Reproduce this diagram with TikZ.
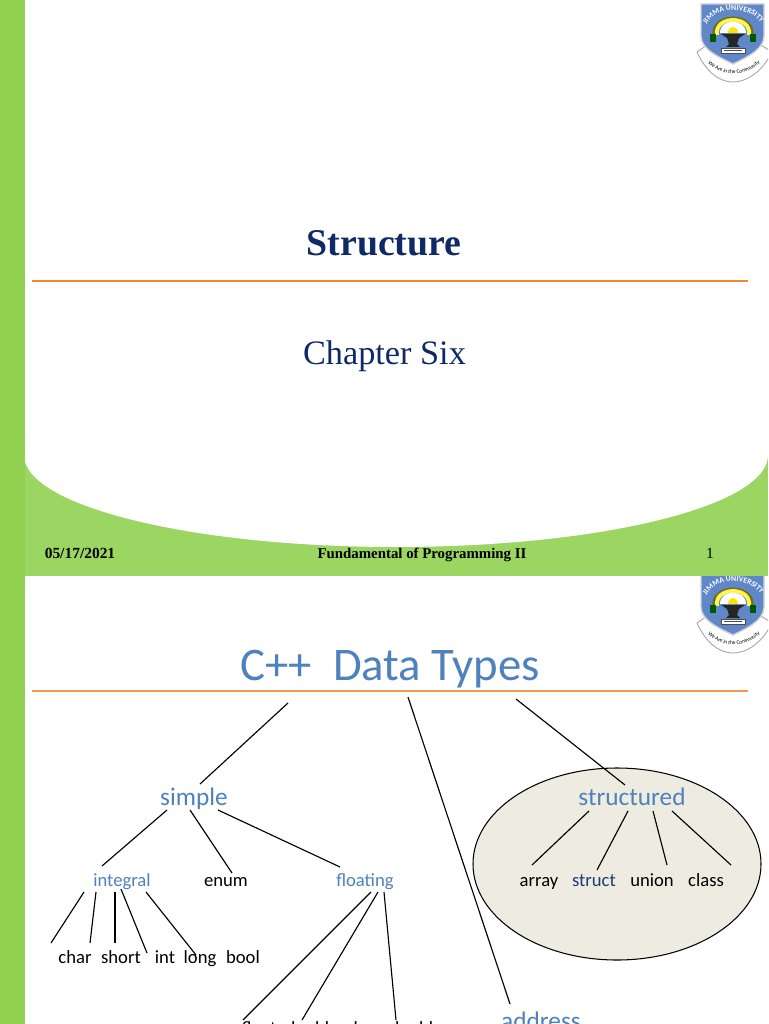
\documentclass[tikz,border=0pt]{standalone}
\usepackage{fontspec}
\usepackage{xcolor}
\usetikzlibrary{decorations.text}
\setmainfont{Carlito}
\newfontfamily\slideserif{Liberation Serif}
\definecolor{bandgreen}{HTML}{92D050}
\definecolor{footgreen}{HTML}{9BD562}
\definecolor{rulered}{HTML}{F08A30}
\definecolor{headblue}{HTML}{4F81BD}
\definecolor{navy}{HTML}{0F2A66}
\definecolor{ovalfill}{HTML}{EEECE1}
\definecolor{crestblue}{HTML}{6088C8}
\tikzset{
  crest/.pic={
    % ── scroll ──
    \filldraw[draw=gray!70, fill=white, line width=0.5pt]
      (-36,40) -- (-26,33) .. controls (-14,50) and (14,50) .. (28,33) -- (39,40)
      .. controls (28,62) and (12,70) .. (0,70) .. controls (-12,70) and (-26,62) .. (-36,40) -- cycle;
    \path[decorate, decoration={text along path, text align=center,
        text={|\fontsize{3.1}{4}\selectfont|We Are in the Community}}]
      (-30,46) .. controls (-14,67) and (14,67) .. (32,46);
    % ── shield ──
    \filldraw[draw=gray!35, fill=crestblue, line width=0.8pt]
      (-32,-8) -- (31,-8) -- (31,24) .. controls (31,38) and (12,46) .. (0,52)
      .. controls (-12,46) and (-32,38) .. (-32,24) -- cycle;
    \path[decorate, decoration={text along path, text align=center,
        text={|\fontsize{4.4}{6}\selectfont\bfseries\color{white}|JIMMA UNIVERSITY}}]
      (-29,21) .. controls (-25,-9) and (25,-9) .. (31,19);
    % ── wreath, flower, stand ──
    \draw[olive!75!black, line width=1.6pt] (-19,24) .. controls (-23,0) and (23,0) .. (19,24);
    \draw[yellow!70!white, line width=2.2pt] (-16,23) .. controls (-19,3) and (19,3) .. (16,23);
    \fill[white] (-13,21) .. controls (-13,6) and (13,6) .. (13,21) -- cycle;
    \fill[yellow!85!orange] (-5,21) .. controls (-5,13) and (5,13) .. (5,21) -- cycle;
    \fill[black!85] (-12,22) -- (12,22) -- (6,26) -- (4,32) -- (7,35) -- (-7,35) -- (-4,32) -- (-6,26) -- cycle;
    \fill[green!35!black] (-23,22) rectangle (-17,30);
    \fill[green!35!black] (17,22) rectangle (23,30);
    \filldraw[draw=black!70, fill=white, line width=0.3pt] (-12,36) rectangle (12,41);
    \draw[black!70, line width=0.5pt] (-9,38.5) -- (9,38.5);
  },
  xlab/.style={anchor=base, inner sep=0pt, font=\fontsize{10.6}{12}\selectfont},
  hlab/.style={anchor=base, inner sep=0pt, font=\fontsize{14.4}{16}\selectfont, text=headblue},
  foot/.style={anchor=base, inner sep=0pt, font=\slideserif\fontsize{8.8}{10}\selectfont},
  link/.style={black, line width=0.65pt}
}
\begin{document}
\begin{tikzpicture}[x=0.02cm, y=-0.02cm]
\useasboundingbox (0,0) rectangle (768,1024);
\clip (0,0) rectangle (768,1024);

% ── Slide backgrounds ──
\fill[white] (0,0) rectangle (768,1024);
\pic at (733,12) {crest};
\pic at (733,583) {crest};
\fill[footgreen] (25,455) rectangle (768,576);
\fill[white] (396,455) ellipse [x radius=372, y radius=92];
\fill[white] (25,300) rectangle (768,455);
\fill[bandgreen] (0,0) rectangle (25,1024);

% ── First slide ──
\node[anchor=base, inner sep=0pt, font=\slideserif\bfseries\fontsize{21.5}{24}\selectfont, text=navy]
     (slidetitle) at (384,255) {Structure};
\draw[rulered, line width=0.6pt] (32,281) -- (748,281);
\node[anchor=base, inner sep=0pt, font=\slideserif\fontsize{19.5}{22}\selectfont, text=navy]
     (chapter) at (384.5,364) {Chapter Six};
\node[foot] (fdate) at (80,558) {\bfseries 05/17/2021};
\node[foot, font=\slideserif\fontsize{8.45}{10}\selectfont] (fname) at (422,558) {\bfseries Fundamental of Programming II};
\node[foot] (fpage) at (710,558) {1};

% ── Second slide heading ──
\node[anchor=base, inner sep=0pt, font=\fontsize{26.6}{30}\selectfont, text=headblue]
     (dtypes) at (390,680) {C++\ \ Data Types};
\draw[rulered!85!white, line width=1.1pt] (32,691) -- (748,691);

% ── Oval behind structured ──
\filldraw[draw=black, fill=ovalfill, line width=0.6pt] (617,864) ellipse [x radius=144, y radius=96];

% ── Labels ──
\node[hlab] (simple) at (194,805) {simple};
\node[hlab] (structured) at (632,805) {structured};
\node[hlab] (address) at (541,1029) {address};
\node[xlab, text=headblue] (integral) at (122,886) {integral};
\node[xlab] (enum) at (226,886) {enum};
\node[xlab, text=headblue] (floating) at (365,886) {floating};
\node[xlab] (array) at (539,886) {array};
\node[xlab, text=navy!80!headblue] (struct) at (594,886) {struct};
\node[xlab] (union) at (652,886) {union};
\node[xlab] (class) at (706,886) {class};
\node[xlab] (char) at (75,963) {char};
\node[xlab] (short) at (121,963) {short};
\node[xlab] (int) at (165,963) {int};
\node[xlab] (longint) at (200,963) {long};
\node[xlab] (bool) at (243,963) {bool};
\node[xlab] (float) at (259,1034) {float};
\node[xlab] (double) at (312,1034) {double};
\node[xlab] (longd) at (370,1034) {long};
\node[xlab] (ldouble) at (416,1034) {double};

% ── Heading → three branches ──
\draw[link] ([shift={(-102,23)}]dtypes.base) -- ([shift={(6,-21)}]simple.base);
\draw[link] ([shift={(18,17)}]dtypes.base) -- ([shift={(-31,-25)}]address.base);
\draw[link] ([shift={(126,19)}]dtypes.base) -- ([shift={(-7,-20)}]structured.base);

% ── simple ──
\draw[link] ([shift={(-27,5)}]simple.base) -- ([shift={(-20,-20)}]integral.base);
\draw[link] ([shift={(-4,5)}]simple.base) -- ([shift={(6,-13)}]enum.base);
\draw[link] ([shift={(24,5)}]simple.base) -- ([shift={(-25,-19)}]floating.base);

% ── structured ──
\draw[link] ([shift={(-43,6)}]structured.base) -- ([shift={(-7,-21)}]array.base);
\draw[link] ([shift={(-4,6)}]structured.base) -- ([shift={(3,-16)}]struct.base);
\draw[link] ([shift={(21,6)}]structured.base) -- ([shift={(15,-21)}]union.base);
\draw[link] ([shift={(40,6)}]structured.base) -- ([shift={(25,-21)}]class.base);

% ── integral ──
\draw[link] ([shift={(-38,6)}]integral.base) -- ([shift={(-24,-20)}]char.base);
\draw[link] ([shift={(-26,6)}]integral.base) -- ([shift={(-31,-20)}]short.base);
\draw[link] ([shift={(-7,6)}]integral.base) -- ([shift={(-50,-20)}]int.base);
\draw[link] ([shift={(-1,3)}]integral.base) -- ([shift={(-53,-10)}]longint.base);
\draw[link] ([shift={(24,6)}]integral.base) -- ([shift={(-47,-8)}]bool.base);

% ── floating ──
\draw[link] ([shift={(6,6)}]floating.base) -- ([shift={(-16,-14)}]float.base);
\draw[link] ([shift={(13,6)}]floating.base) -- ([shift={(-10,-14)}]double.base);
\draw[link] ([shift={(19,6)}]floating.base) -- ([shift={(-20,-14)}]ldouble.base);

\end{tikzpicture}
\end{document}
